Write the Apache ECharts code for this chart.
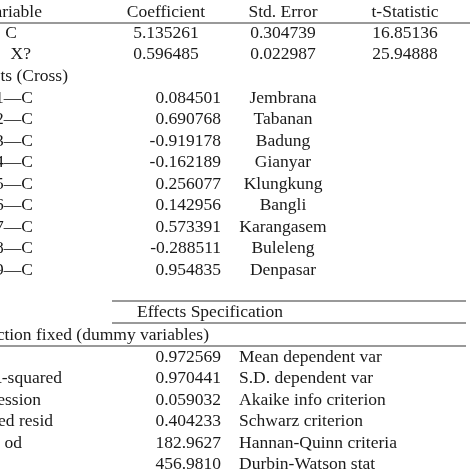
<!DOCTYPE html>
<html><head><meta charset="utf-8">
<script src="https://cdn.jsdelivr.net/npm/echarts@6/dist/echarts.min.js"></script>
<style>html,body{margin:0;padding:0;background:#fff}#main{width:474px;height:474px}</style>
</head><body><div id="main"></div>
<script>
var headers = ['Coefficient', 'Std. Error', 't-Statistic'];
var mainVars = ['C', 'X?'];
var mainCoef = ['5.135261', '0.596485'];
var mainStdErr = ['0.304739', '0.022987'];
var mainTStat = ['16.85136', '25.94888'];
var effLabels = ['1\u2014C', '2\u2014C', '3\u2014C', '4\u2014C', '5\u2014C', '6\u2014C', '7\u2014C', '8\u2014C', '9\u2014C'];
var effValues = ['0.084501', '0.690768', '-0.919178', '-0.162189', '0.256077', '0.142956', '0.573391', '-0.288511', '0.954835'];
var regions = ['Jembrana', 'Tabanan', 'Badung', 'Gianyar', 'Klungkung', 'Bangli', 'Karangasem', 'Buleleng', 'Denpasar'];
var statLabels = ['R-squared', 'Adjusted R-squared', 'S.E. of regression', 'Sum squared resid', 'Log likeliho od', 'F-statistic'];
var statValues = ['0.972569', '0.970441', '0.059032', '0.404233', '182.9627', '456.9810'];
var statNames = ['Mean dependent var', 'S.D. dependent var', 'Akaike info criterion', 'Schwarz criterion', 'Hannan-Quinn criteria', 'Durbin-Watson stat'];

var chart = echarts.init(document.getElementById('main'));
var font = '17.5px "Liberation Serif", "DejaVu Serif", serif';
var els = [];
function txt(s, x, y, align) {
  els.push({ type: 'text', x: x, y: y, style: { text: s, font: font, fill: '#1a1a1a', align: align || 'left', verticalAlign: 'middle' } });
}
function line(x1, x2, y) {
  els.push({ type: 'line', shape: { x1: x1, y1: y, x2: x2, y2: y }, style: { stroke: '#777', lineWidth: 1.5 } });
}
txt('Variable', 42, 12, 'right');
txt(headers[0], 166, 12, 'center');
txt(headers[1], 283, 12, 'center');
txt(headers[2], 405, 12, 'center');
line(0, 470, 23);
var rowH = 21.5;
mainVars.forEach(function (v, i) {
  var y = 33 + i * rowH;
  txt(v, i === 0 ? 11 : 31, y, i === 0 ? 'center' : 'right');
  txt(mainCoef[i], 166, y, 'center');
  txt(mainStdErr[i], 283, y, 'center');
  txt(mainTStat[i], 405, y, 'center');
});
txt('Fixed Effects (Cross)', 68, 76, 'right');
effLabels.forEach(function (l, i) {
  var y = 98 + i * rowH;
  txt(l, 33, y, 'right');
  txt(effValues[i], 221, y, 'right');
  txt(regions[i], 283, y, 'center');
});
line(112, 466, 301);
txt('Effects Specification', 210, 312, 'center');
line(112, 466, 323);
txt('Cross-section fixed (dummy variables)', 209, 335, 'right');
line(0, 466, 346);
var statRight = [0, 62, 41, 53, 22, 0];
statLabels.forEach(function (l, i) {
  var y = 357 + i * rowH;
  if (statRight[i] > 0) txt(l, statRight[i], y, 'right');
  txt(statValues[i], 221, y, 'right');
  txt(statNames[i], 239, y, 'left');
});
chart.setOption({ animation: false, graphic: els });
</script></body></html>
